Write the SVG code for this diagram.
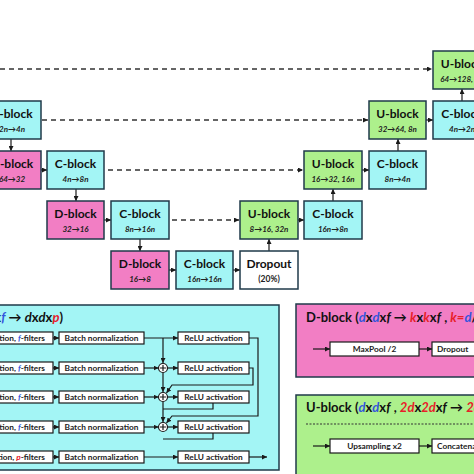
<svg xmlns="http://www.w3.org/2000/svg" width="474" height="474" viewBox="0 0 474 474">
<defs>
<marker id="ah" markerUnits="userSpaceOnUse" markerWidth="5" markerHeight="5" refX="5" refY="2.5" orient="auto"><path d="M0,0 L5,2.5 L0,5 z" fill="#1a1a1a"/></marker>
<style>
.c{fill:#a3f5f5;stroke:#1f3a4a;stroke-width:1.5}
.d{fill:#f27ec4;stroke:#1f3a4a;stroke-width:1.5}
.u{fill:#adf08c;stroke:#1f3a4a;stroke-width:1.5}
.w{fill:#ffffff;stroke:#1f3a4a;stroke-width:1.5}
.t{font-family:Lato,"Liberation Sans",sans-serif;font-weight:bold;font-size:12px;fill:#111;text-anchor:middle}
.s{font-family:Lato,"Liberation Sans",sans-serif;font-weight:bold;font-style:italic;font-size:8px;fill:#222;text-anchor:middle}
.sr{font-family:Lato,"Liberation Sans",sans-serif;font-weight:bold;font-size:8.5px;fill:#222;text-anchor:middle}
.dash{fill:none;stroke:#333;stroke-width:1.5;stroke-dasharray:5,4}
.ln{fill:none;stroke:#1a1a1a;stroke-width:1.2}
.bx{fill:#fff;stroke:#1a1a1a;stroke-width:1.2}
.bt{font-family:Lato,"Liberation Sans",sans-serif;font-weight:bold;font-size:8.3px;fill:#222;text-anchor:middle}
.pt{font-family:Lato,"Liberation Sans",sans-serif;font-weight:bold;font-size:13px;fill:#111}
.bl{fill:#3355dd;font-style:italic}
.rd{fill:#e8202a;font-style:italic}
.it{font-style:italic}
</style>
</defs>

<g id="connectors">
<path class="dash" d="M0,69 H432" marker-end="url(#ah)"/>
<path class="dash" d="M42,120 H368" marker-end="url(#ah)"/>
<path class="dash" d="M108,170 H303" marker-end="url(#ah)"/>
<path class="dash" d="M172,220 H239" marker-end="url(#ah)"/>
<path class="ln" d="M41,170 H47" marker-end="url(#ah)"/>
<path class="ln" d="M104,220 H111" marker-end="url(#ah)"/>
<path class="ln" d="M169,270 H176" marker-end="url(#ah)"/>
<path class="ln" d="M233,270 H240" marker-end="url(#ah)"/>
<path class="ln" d="M298,220 H304" marker-end="url(#ah)"/>
<path class="ln" d="M362,170 H369" marker-end="url(#ah)"/>
<path class="ln" d="M426,120 H433" marker-end="url(#ah)"/>
<path class="ln" d="M11,139 V151" marker-end="url(#ah)"/>
<path class="ln" d="M76,189 V201" marker-end="url(#ah)"/>
<path class="ln" d="M140,239 V251" marker-end="url(#ah)"/>
<path class="ln" d="M269,251 V239" marker-end="url(#ah)"/>
<path class="ln" d="M333,201 V189" marker-end="url(#ah)"/>
<path class="ln" d="M398,151 V139" marker-end="url(#ah)"/>
<path class="ln" d="M462,101 V89" marker-end="url(#ah)"/>
</g>

<g id="n-c-2n-4n"><rect class="c" x="-17" y="101" width="58" height="38"/><text class="t" x="12" y="118">C-block</text><text class="s" x="12" y="132">2n→4n</text></g>
<g id="n-d-64-32"><rect class="d" x="-17" y="151" width="58" height="38"/><text class="t" x="12" y="168">D-block</text><text class="s" x="12" y="182">64→32</text></g>
<g id="n-c-4n-8n"><rect class="c" x="47" y="151" width="57" height="38"/><text class="t" x="75.5" y="168">C-block</text><text class="s" x="75.5" y="182">4n→8n</text></g>
<g id="n-d-32-16"><rect class="d" x="47" y="201" width="57" height="38"/><text class="t" x="75.5" y="218">D-block</text><text class="s" x="75.5" y="232">32→16</text></g>
<g id="n-c-8n-16n"><rect class="c" x="111" y="201" width="58" height="38"/><text class="t" x="140" y="218">C-block</text><text class="s" x="140" y="232">8n→16n</text></g>
<g id="n-d-16-8"><rect class="d" x="111" y="251" width="58" height="38"/><text class="t" x="140" y="268">D-block</text><text class="s" x="140" y="282">16→8</text></g>
<g id="n-c-16n-16n"><rect class="c" x="176" y="251" width="57" height="38"/><text class="t" x="204.5" y="268">C-block</text><text class="s" x="204.5" y="282">16n→16n</text></g>
<g id="n-dropout"><rect class="w" x="240" y="251" width="58" height="38"/><text class="t" x="269" y="268">Dropout</text><text class="sr" x="269" y="282">(20%)</text></g>
<g id="n-u-8-16"><rect class="u" x="240" y="201" width="58" height="38"/><text class="t" x="269" y="218">U-block</text><text class="s" x="269" y="232">8→16, 32n</text></g>
<g id="n-c-16n-8n"><rect class="c" x="304" y="201" width="58" height="38"/><text class="t" x="333" y="218">C-block</text><text class="s" x="333" y="232">16n→8n</text></g>
<g id="n-u-16-32"><rect class="u" x="304" y="151" width="58" height="38"/><text class="t" x="333" y="168">U-block</text><text class="s" x="333" y="182">16→32, 16n</text></g>
<g id="n-c-8n-4n"><rect class="c" x="369" y="151" width="57" height="38"/><text class="t" x="397.5" y="168">C-block</text><text class="s" x="397.5" y="182">8n→4n</text></g>
<g id="n-u-32-64"><rect class="u" x="369" y="101" width="57" height="38"/><text class="t" x="397.5" y="118">U-block</text><text class="s" x="397.5" y="132">32→64, 8n</text></g>
<g id="n-c-4n-2n"><rect class="c" x="433" y="101" width="58" height="38"/><text class="t" x="462" y="118">C-block</text><text class="s" x="462" y="132">4n→2n</text></g>
<g id="n-u-64-128"><rect class="u" x="433" y="51" width="58" height="38"/><text class="t" x="462" y="68">U-block</text><text class="s" x="462" y="82">64→128, 4n</text></g>

<g id="panel-cblock">
<rect x="-5" y="305" width="284" height="165" fill="#a3f5f5" stroke="#1f3a4a" stroke-width="1.5"/>
<text class="pt" x="63" y="322" text-anchor="end">C-block (<tspan class="bl">d</tspan>x<tspan class="bl">d</tspan>x<tspan class="bl">f</tspan> → <tspan class="it">d</tspan>x<tspan class="it">d</tspan>x<tspan class="rd">p</tspan>)</text>
<rect class="bx" x="-35" y="332" width="88" height="12"/><text class="bt" x="45" y="341" text-anchor="end" style="text-anchor:end">Convolution, <tspan class="bl">f</tspan>-filters</text>
<rect class="bx" x="-35" y="362" width="88" height="12"/><text class="bt" x="45" y="371" style="text-anchor:end">Convolution, <tspan class="bl">f</tspan>-filters</text>
<rect class="bx" x="-35" y="391" width="88" height="12"/><text class="bt" x="45" y="400" style="text-anchor:end">Convolution, <tspan class="bl">f</tspan>-filters</text>
<rect class="bx" x="-35" y="421" width="88" height="12"/><text class="bt" x="45" y="430" style="text-anchor:end">Convolution, <tspan class="bl">f</tspan>-filters</text>
<rect class="bx" x="-35" y="451" width="88" height="12"/><text class="bt" x="45" y="460" style="text-anchor:end">Convolution, <tspan class="rd">p</tspan>-filters</text>
<path class="ln" d="M53,338 H59" marker-end="url(#ah)"/>
<path class="ln" d="M53,368 H59" marker-end="url(#ah)"/>
<path class="ln" d="M53,397 H59" marker-end="url(#ah)"/>
<path class="ln" d="M53,427 H59" marker-end="url(#ah)"/>
<path class="ln" d="M53,457 H59" marker-end="url(#ah)"/>
<rect class="bx" x="59" y="332" width="85" height="12"/><text class="bt" x="101.5" y="341">Batch normalization</text>
<rect class="bx" x="59" y="362" width="85" height="12"/><text class="bt" x="101.5" y="371">Batch normalization</text>
<rect class="bx" x="59" y="391" width="85" height="12"/><text class="bt" x="101.5" y="400">Batch normalization</text>
<rect class="bx" x="59" y="421" width="85" height="12"/><text class="bt" x="101.5" y="430">Batch normalization</text>
<rect class="bx" x="59" y="451" width="85" height="12"/><text class="bt" x="101.5" y="460">Batch normalization</text>
<path class="ln" d="M144,338 H178" marker-end="url(#ah)"/>
<path class="ln" d="M163,338 V363" marker-end="url(#ah)"/>
<path class="ln" d="M144,368 H158.5" marker-end="url(#ah)"/>
<path class="ln" d="M144,397 H158.5" marker-end="url(#ah)"/>
<path class="ln" d="M144,427 H158.5" marker-end="url(#ah)"/>
<path class="ln" d="M167.5,368 H178" marker-end="url(#ah)"/>
<path class="ln" d="M167.5,397 H178" marker-end="url(#ah)"/>
<path class="ln" d="M167.5,427 H178" marker-end="url(#ah)"/>
<path class="ln" d="M144,457 H178" marker-end="url(#ah)"/>
<path class="ln" d="M163,372.5 V392" marker-end="url(#ah)"/>
<path class="ln" d="M163,401.5 V422" marker-end="url(#ah)"/>
<path class="ln" d="M249,338 H258 V416 H172 L166.5,423" marker-end="url(#ah)"/>
<path class="ln" d="M249,368 H253 V385 H172 L166.5,393" marker-end="url(#ah)"/>
<path class="ln" d="M213,403 V409 H163"/>
<path class="ln" d="M213,433 V439 H163"/>
<path class="ln" d="M249,457 H267" marker-end="url(#ah)"/>
<g fill="#fff" stroke="#1a1a1a" stroke-width="1.2">
<circle cx="163" cy="368" r="4.5"/><circle cx="163" cy="397" r="4.5"/><circle cx="163" cy="427" r="4.5"/>
</g>
<path class="ln" d="M160,368 H166 M163,365 V371 M160,397 H166 M163,394 V400 M160,427 H166 M163,424 V430"/>
<rect class="bx" x="178" y="332" width="71" height="12"/><text class="bt" x="213.5" y="341">ReLU activation</text>
<rect class="bx" x="178" y="362" width="71" height="12"/><text class="bt" x="213.5" y="371">ReLU activation</text>
<rect class="bx" x="178" y="391" width="71" height="12"/><text class="bt" x="213.5" y="400">ReLU activation</text>
<rect class="bx" x="178" y="421" width="71" height="12"/><text class="bt" x="213.5" y="430">ReLU activation</text>
<rect class="bx" x="178" y="451" width="71" height="12"/><text class="bt" x="213.5" y="460">ReLU activation</text>
</g>

<g id="panel-dblock">
<rect x="296" y="304" width="185" height="73" fill="#f27ec4" stroke="#1f3a4a" stroke-width="1.5"/>
<text class="pt" x="306" y="322">D-block (<tspan class="bl">d</tspan>x<tspan class="bl">d</tspan>x<tspan class="it">f</tspan> → <tspan class="rd">k</tspan>x<tspan class="rd">k</tspan>x<tspan class="it">f</tspan> , <tspan class="rd">k=</tspan><tspan class="bl">d</tspan>/2)</text>
<path class="ln" d="M313,349 H330" marker-end="url(#ah)"/>
<rect class="bx" x="330" y="342" width="89" height="14"/><text class="bt" x="374.5" y="352">MaxPool /2</text>
<path class="ln" d="M419,349 H432" marker-end="url(#ah)"/>
<rect class="bx" x="432" y="342" width="60" height="14"/><text class="bt" x="437" y="352" style="text-anchor:start">Dropout</text>
</g>

<g id="panel-ublock">
<rect x="296" y="395" width="185" height="85" fill="#adf08c" stroke="#1f3a4a" stroke-width="1.5"/>
<text class="pt" x="306" y="412">U-block (<tspan class="bl">d</tspan>x<tspan class="bl">d</tspan>x<tspan class="it">f</tspan> , <tspan class="rd">2d</tspan>x<tspan class="rd">2d</tspan>x<tspan class="it">f</tspan> → <tspan class="rd">2d</tspan>x<tspan class="rd">2d</tspan>x<tspan class="it">f</tspan>)</text>
<path d="M306,424 H480" fill="none" stroke="#333" stroke-width="1" stroke-dasharray="2,1.5"/>
<path class="ln" d="M313,446 H330" marker-end="url(#ah)"/>
<rect class="bx" x="330" y="439" width="89" height="14"/><text class="bt" x="374.5" y="449">Upsampling x2</text>
<path class="ln" d="M419,446 H432" marker-end="url(#ah)"/>
<rect class="bx" x="432" y="439" width="60" height="14"/><text class="bt" x="437" y="449" style="text-anchor:start">Concatenation</text>
</g>
</svg>
